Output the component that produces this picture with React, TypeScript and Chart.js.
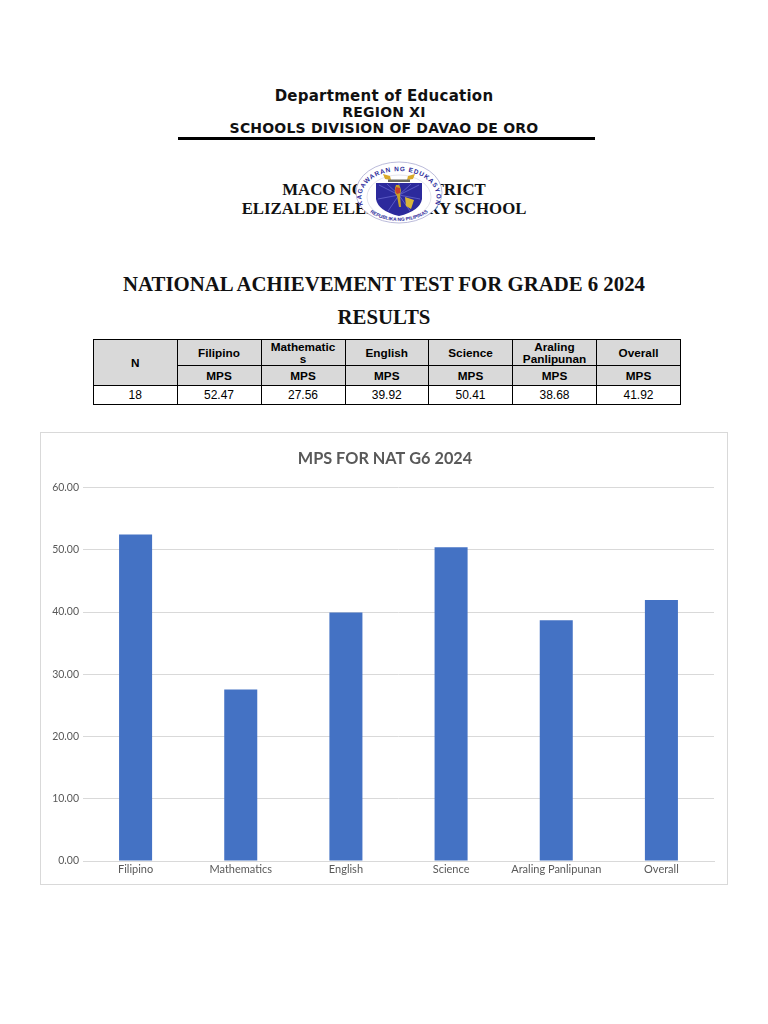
import React, { useEffect, useRef } from "react";
import { Chart, registerables } from "chart.js";

Chart.register(...registerables);

const categories = ["Filipino", "Mathematics", "English", "Science", "Araling Panlipunan", "Overall"];
const mpsValues = [52.47, 27.56, 39.92, 50.41, 38.68, 41.92];
const tableHead = ["Filipino", "Mathematics", "English", "Science", "Araling Panlipunan", "Overall"];
const tableRow = ["52.47", "27.56", "39.92", "50.41", "38.68", "41.92"];
const columnWidths = [83.5, 84, 84, 83.5, 84, 84, 84];

const abs = (left: number, top: number, width: number, height: number): React.CSSProperties => ({
  position: "absolute", left, top, width, height,
});

function Line({ top, text, font, size, spacing = 0 }: any) {
  return (
    <div style={{ position: "absolute", left: 0, width: 768, top, textAlign: "center", fontFamily: font, fontSize: size, fontWeight: "bold", letterSpacing: spacing, lineHeight: "20px", color: "#111", whiteSpace: "nowrap" }}>
      {text}
    </div>
  );
}

function Seal() {
  return (
    <svg style={{ position: "absolute", left: 354, top: 161 }} width={90} height={64} viewBox="0 0 90 64">
      <defs>
        <path id="topArc" d="M 8.5 42 A 37.5 26 0 1 1 81.5 42" />
        <path id="botArc" d="M 10 45 A 38 24.5 0 0 0 80 45" />
      </defs>
      <ellipse cx={45} cy={31.5} rx={43} ry={30.5} fill="#fff" stroke="#a9a9d0" strokeWidth={0.8} />
      <ellipse cx={45} cy={36} rx={32} ry={22} fill="#fff" stroke="#c9c9d8" strokeWidth={0.5} />
      <text fontFamily="Liberation Sans" fontSize={6.4} fontWeight="bold" fill="#2b2a9a" letterSpacing={0.9}>
        <textPath href="#topArc" startOffset="50%" textAnchor="middle">KAGAWARAN NG EDUKASYON</textPath>
      </text>
      <text fontFamily="Liberation Sans" fontSize={4.8} fontWeight="bold" fill="#2b2a9a">
        <textPath href="#botArc" startOffset="50%" textAnchor="middle">REPUBLIKA NG PILIPINAS</textPath>
      </text>
      <path d="M 22 22 H 68 V 38 Q 66 50 45 55 Q 24 50 22 38 Z" fill="#2c2a9c" />
      <path d="M 45 34 L 25 24 M 45 34 L 33 23 M 45 34 L 45 22 M 45 34 L 57 23 M 45 34 L 65 24 M 45 34 L 24 38 M 45 34 L 66 38 M 45 34 L 34 50 M 45 34 L 56 50" stroke="#6f6fd6" strokeWidth={0.7} fill="none" />
      <path d="M 29 13 L 36 15 L 37 19 L 31 18 Z M 61 13 L 54 15 L 53 19 L 59 18 Z" fill="#d9a928" />
      <rect x={34} y={18.5} width={22} height={2.5} fill="#6b6b60" />
      <path d="M 42 24 Q 39 31 43 35 L 45 46 L 47 46 L 46 34 Q 48 28 45 24 Z" fill="#c9a227" />
      <path d="M 42 26 Q 40 30 43 33 L 46 32 L 46 27 Z" fill="#c8402a" />
      <path d="M 51 36 L 60 39 L 57 48 L 52 45 Z" fill="#d8b638" />
    </svg>
  );
}

const shiftTitle = {
  id: "shiftTitle",
  afterLayout(chart: any) {
    if (chart.titleBlock) chart.titleBlock.right += 15;
  },
};

export default function App() {
  const ref = useRef<HTMLCanvasElement>(null);
  useEffect(() => {
    document.body.style.margin = "0";
    const chart = new Chart(ref.current!, {
      type: "bar",
      plugins: [shiftTitle],
      data: {
        labels: categories,
        datasets: [{ label: "MPS", data: mpsValues, backgroundColor: "#4472C4", barPercentage: 0.314, categoryPercentage: 1 }],
      },
      options: {
        responsive: false,
        animation: false,
        layout: { padding: { top: 0, right: 13, bottom: 0, left: 0 } },
        plugins: {
          legend: { display: false },
          tooltip: { enabled: false },
          title: {
            display: true,
            text: "MPS FOR NAT G6 2024",
            color: "#595959",
            font: { family: "Lato", size: 16.3, weight: "bold" },
            padding: { top: 16, bottom: 19 },
          },
        },
        scales: {
          x: {
            grid: { display: false, drawTicks: false },
            border: { color: "#d9d9d9" },
            ticks: { color: "#595959", font: { family: "Lato", size: 11 }, padding: 2, maxRotation: 0, autoSkip: false },
            afterFit: (s: any) => { s.height = 23; },
          },
          y: {
            min: 0,
            max: 60,
            grid: { color: "#d9d9d9", drawTicks: false },
            border: { display: false },
            ticks: { stepSize: 10, color: "#595959", font: { family: "Lato", size: 10.5 }, padding: 4, callback: (v: any) => Number(v).toFixed(2) },
            afterFit: (s: any) => { s.width = 42; },
          },
        },
      },
    });
    return () => chart.destroy();
  }, []);

  const cell: React.CSSProperties = { border: "1px solid #000", padding: 0, textAlign: "center", verticalAlign: "middle", lineHeight: "12px", fontSize: 12 };
  const head: React.CSSProperties = { ...cell, background: "#d9d9d9", fontWeight: "bold", fontSize: 11.75 };

  return (
    <div style={{ position: "absolute", left: 0, top: 0, width: 768, height: 1024, background: "#fff", overflow: "hidden" }}>
      <Line top={86} text="Department of Education" font="DejaVu Sans" size={15} spacing={0.25} />
      <Line top={102} text="REGION XI" font="DejaVu Sans" size={14} spacing={0.2} />
      <Line top={118} text="SCHOOLS DIVISION OF DAVAO DE ORO" font="DejaVu Sans" size={14} spacing={0.2} />
      <div style={{ ...abs(178, 137, 417, 3), background: "#000" }} />
      <Line top={180} text="MACO NORTH DISTRICT" font="Liberation Serif" size={16.8} />
      <Line top={199} text="ELIZALDE ELEMENTARY SCHOOL" font="Liberation Serif" size={16.8} />
      <Seal />
      <Line top={274} text="NATIONAL ACHIEVEMENT TEST FOR GRADE 6 2024" font="Liberation Serif" size={20.8} />
      <Line top={307} text="RESULTS" font="Liberation Serif" size={20.8} />

      <table style={{ position: "absolute", left: 93, top: 339, width: 587, borderCollapse: "collapse", tableLayout: "fixed", fontFamily: "Liberation Sans", color: "#000" }}>
        <colgroup>{columnWidths.map((w, i) => <col key={i} style={{ width: w }} />)}</colgroup>
        <tbody>
          <tr style={{ height: 26 }}>
            <td rowSpan={2} style={head}>N</td>
            {tableHead.map((h) => <td key={h} style={{ ...head, padding: "0 7px", overflowWrap: "anywhere" }}>{h}</td>)}
          </tr>
          <tr style={{ height: 20 }}>
            {tableHead.map((h) => <td key={h} style={head}>MPS</td>)}
          </tr>
          <tr style={{ height: 19 }}>
            <td style={cell}>18</td>
            {tableRow.map((v) => <td key={v} style={cell}>{v}</td>)}
          </tr>
        </tbody>
      </table>

      <div style={{ ...abs(40, 432, 686, 451), border: "1px solid #d9d9d9" }}>
        <canvas ref={ref} width={686} height={451} style={{ display: "block" }} />
      </div>
    </div>
  );
}
